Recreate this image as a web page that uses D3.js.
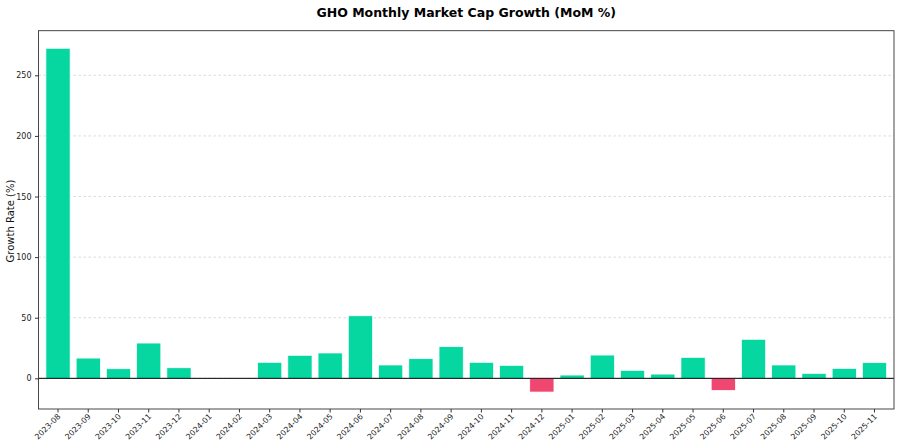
<!DOCTYPE html>
<html>
<head>
<meta charset="utf-8">
<script src="https://cdn.jsdelivr.net/npm/d3@7"></script>
<style>
  html, body { margin: 0; padding: 0; background: #fff; }
  svg { display: block; font-family: "DejaVu Sans", sans-serif; }
</style>
</head>
<body>
<svg id="chart" width="900" height="447"></svg>
<script>
const months = ["2023-08","2023-09","2023-10","2023-11","2023-12",
  "2024-01","2024-02","2024-03","2024-04","2024-05","2024-06","2024-07","2024-08","2024-09","2024-10","2024-11","2024-12",
  "2025-01","2025-02","2025-03","2025-04","2025-05","2025-06","2025-07","2025-08","2025-09","2025-10","2025-11"];
const growth = [272.3, 16.7, 7.9, 29.1, 8.7,
  0, 0.3, 13.2, 19.0, 20.9, 51.6, 11.0, 16.2, 26.1, 13.2, 10.7, -11.3,
  2.7, 19.2, 6.6, 3.5, 17.3, -9.9, 32.2, 11.0, 4.1, 8.2, 12.9];
const yTicks = [0, 50, 100, 150, 200, 250];
const yDomain = [-25.3, 286.8];
const title = "GHO Monthly Market Cap Growth (MoM %)";
const yLabel = "Growth Rate (%)";

const W = 900, H = 447;
const m = { left: 38.5, right: 6, top: 30.7, bottom: 38 };
const svg = d3.select("#chart");
const iw = W - m.left - m.right, ih = H - m.top - m.bottom;

const y = d3.scaleLinear().domain(yDomain).range([m.top + ih, m.top]);
const x = d3.scaleBand().domain(months)
  .range([m.left, m.left + iw]).paddingInner(0.2).paddingOuter(0.245);

// grid
svg.append("g").selectAll("line").data(yTicks).join("line")
  .attr("x1", m.left).attr("x2", m.left + iw)
  .attr("y1", d => y(d)).attr("y2", d => y(d))
  .attr("stroke", "#c8c8c8").attr("stroke-width", 0.8)
  .attr("stroke-dasharray", "2.5,2.5").attr("opacity", 0.8);

// bars
svg.append("g").selectAll("rect").data(months.map((mth, i) => ({ mth, v: growth[i] }))).join("rect")
  .attr("x", d => x(d.mth))
  .attr("width", x.bandwidth())
  .attr("y", d => y(Math.max(0, d.v)))
  .attr("height", d => Math.abs(y(d.v) - y(0)))
  .attr("fill", d => d.v >= 0 ? "#06D6A0" : "#EF476F")
  .attr("stroke", "#ffffff").attr("stroke-width", 0.7);

// zero line
svg.append("line")
  .attr("x1", m.left).attr("x2", m.left + iw)
  .attr("y1", y(0)).attr("y2", y(0))
  .attr("stroke", "#000").attr("stroke-width", 1);

// frame
svg.append("rect").attr("x", m.left).attr("y", m.top).attr("width", iw).attr("height", ih)
  .attr("fill", "none").attr("stroke", "#333").attr("stroke-width", 0.9);

// y axis
const yAxis = d3.axisLeft(y).tickValues(yTicks).tickSize(3.5).tickPadding(3.5);
const gy = svg.append("g").attr("transform", `translate(${m.left},0)`).call(yAxis);
gy.select(".domain").remove();
gy.selectAll("text").attr("font-size", "8px").attr("fill", "#222").attr("font-family", "DejaVu Sans, sans-serif");
gy.selectAll("line").attr("stroke", "#333");

// x axis
const xAxis = d3.axisBottom(x).tickSize(3.5).tickPadding(2);
const gx = svg.append("g").attr("transform", `translate(0,${m.top + ih})`).call(xAxis);
gx.select(".domain").remove();
gx.selectAll("line").attr("stroke", "#333");
gx.selectAll("text")
  .attr("font-size", "7.8px").attr("fill", "#222").attr("font-family", "DejaVu Sans, sans-serif")
  .attr("text-anchor", "end")
  .attr("dy", null).attr("y", 0)
  .attr("transform", "translate(3,8) rotate(-45)");

// title
svg.append("text").attr("x", m.left + iw / 2).attr("y", 17)
  .attr("text-anchor", "middle").attr("font-weight", "bold").attr("font-size", "12.5px")
  .attr("fill", "#000").text(title);

// y label
svg.append("text").attr("transform", `translate(13.5,221) rotate(-90)`)
  .attr("text-anchor", "middle").attr("font-size", "10px").attr("fill", "#111").text(yLabel);
</script>
</body>
</html>
